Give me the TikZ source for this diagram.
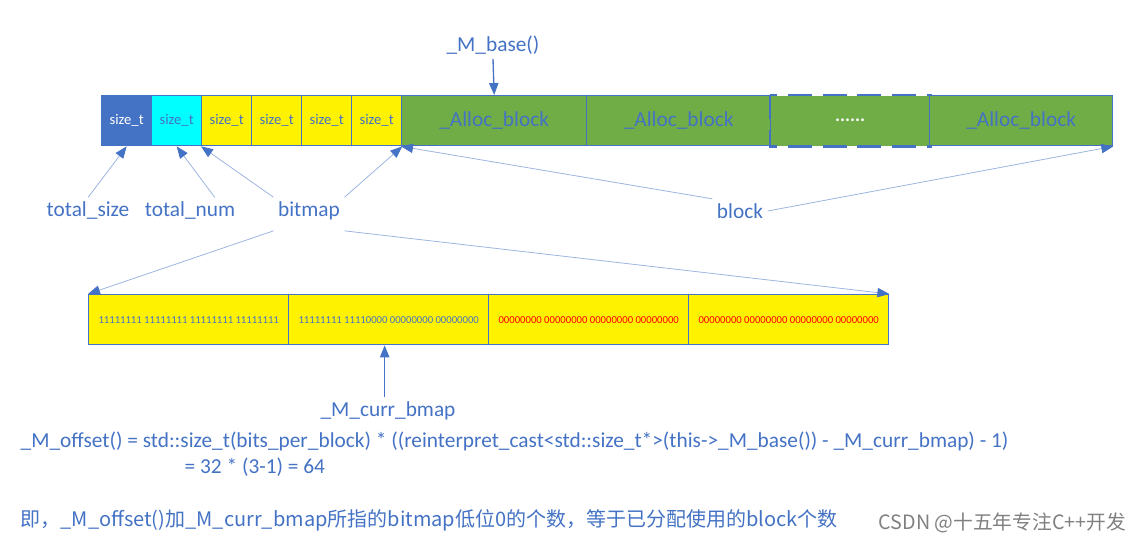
\documentclass[tikz,border=0pt]{standalone}
\usepackage{fontspec}
\setmainfont{Carlito}
\newfontfamily\cjk{Noto Sans CJK SC}
\usetikzlibrary{arrows.meta}
\definecolor{tb}{HTML}{4472C4}
\definecolor{lb}{HTML}{9DB5E0}
\definecolor{gr}{HTML}{70AD47}
\definecolor{cy}{HTML}{00FFFF}
\begin{document}
\begin{tikzpicture}[x=0.75pt,y=-0.75pt,
 cell/.style={draw=tb,line width=1pt,minimum height=37.5pt,inner sep=0pt,anchor=north west},
 lab/.style={text=tb,font=\fontsize{16}{18}\selectfont},
 sz/.style={font=\fontsize{11}{12}\selectfont},
 ab/.style={text=tb,font=\fontsize{16}{18}\selectfont},
 con/.style={draw=lb,line width=0.6pt,-{Triangle[length=9pt,width=7pt,color=tb,fill=tb]}},
 bit/.style={font=\fontsize{8}{9}\selectfont}]
\useasboundingbox (0,0) rectangle (1142,544);
% top row
\node[cell,fill=tb,minimum width=37.5pt,text=white,sz] (s0) at (101,95) {size\_t};
\node[cell,fill=cy,minimum width=37.5pt,text=tb,sz] (s1) at (151,95) {size\_t};
\foreach \i/\x in {2/201,3/251,4/301,5/351}
  \node[cell,fill=yellow,minimum width=37.5pt,text=tb,sz] (s\i) at (\x,95) {size\_t};
\node[cell,fill=gr,minimum width=138.75pt,ab] (b1) at (401,95) {\_Alloc\_block};
\node[cell,fill=gr,minimum width=138pt,ab] (b2) at (586,95) {\_Alloc\_block};
\node[cell,fill=gr,draw=none,minimum width=119.25pt,text=white,font=\bfseries\fontsize{14}{16}\selectfont] (b3) at (770,95) {......};
\draw[tb,line width=2pt,dash pattern=on 18pt off 8pt] (b3.north west) rectangle (b3.south east);
\node[cell,fill=gr,minimum width=137.25pt,ab] (b4) at (929,95) {\_Alloc\_block};
% labels
\node[lab] (base) at (493,45) {\_M\_base()};
\draw[con,draw=tb,line width=1pt] (base.south) -- (b1.north);
\node[lab] (ts) at (88,211) {total\_size};
\node[lab] (tn) at (190,211) {total\_num};
\node[lab] (bm) at (309,211) {bitmap};
\node[lab] (bl) at (740,211) {block};
\draw[con] (ts.north) -- (s0.south);
\draw[con] (tn.north east) ++(-25,0) -- (s1.south);
\draw[con] (bm.north west) -- (s2.south west);
\draw[con] (bm.north east) -- (s5.south east);
\draw[con] (bl.north west) -- (b1.south west);
\draw[con] (bl.east) -- (b4.south east);
% bottom row
\node[cell,fill=yellow,minimum width=150pt,text=tb,bit] (m1) at (88,294) {11111111 11111111 11111111 11111111};
\node[cell,fill=yellow,minimum width=150pt,text=tb,bit] (m2) at (288,294) {11111111 11110000 00000000 00000000};
\node[cell,fill=yellow,minimum width=150pt,text=red,bit] (m3) at (488,294) {00000000 00000000 00000000 00000000};
\node[cell,fill=yellow,minimum width=150pt,text=red,bit] (m4) at (688,294) {00000000 00000000 00000000 00000000};
\draw[con] (bm.south west) ++(0,6) -- (m1.north west);
\draw[con] (bm.south east) ++(0,6) -- (m4.north east);
\node[lab] (cb) at (388,411) {\_M\_curr\_bmap};
\draw[con,draw=tb,line width=1pt] (cb.north -| m2.south) ++(-4,0) coordinate (cs) -- (cs |- m2.south);
\node[lab,anchor=west] (f1) at (16,441) {\_M\_offset() = std::size\_t(bits\_per\_block) * ((reinterpret\_cast<std::size\_t*>(this->\_M\_base()) - \_M\_curr\_bmap) - 1)};
\node[lab,anchor=west] (f2) at (180,467) {= 32 * (3-1) = 64};
\node[lab,anchor=west,font=\cjk\fontsize{15}{17}\selectfont] (cn) at (16,520) {即，\_M\_offset()加\_M\_curr\_bmap所指的bitmap低位0的个数，等于已分配使用的block个数};
\node[anchor=west,text=gray,font=\cjk\fontsize{14.8}{16}\selectfont] (wm) at (874,523) {CSDN @十五年专注C++开发};
\end{tikzpicture}
\end{document}
